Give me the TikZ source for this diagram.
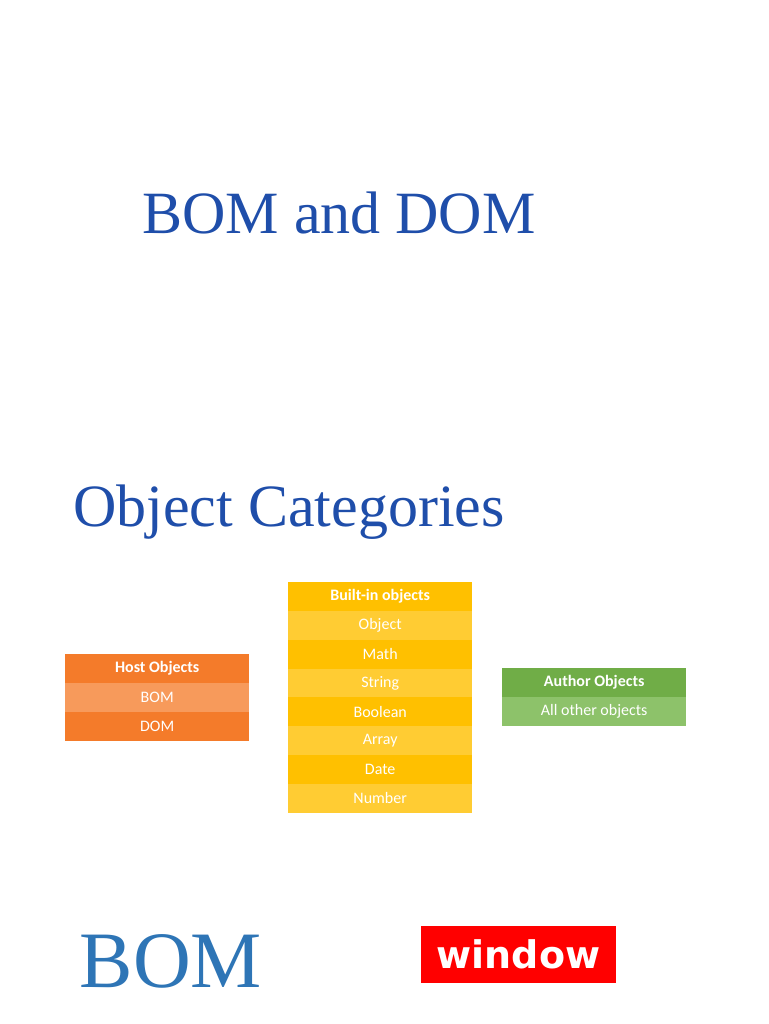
\documentclass[tikz,border=0pt]{standalone}
\usepackage{fontspec}
\setmainfont{Liberation Serif}
\newfontfamily\calfnt{Carlito}
\newfontfamily\dvs{DejaVu Sans}
\definecolor{ttl}{HTML}{1F4EAA}
\definecolor{bom}{HTML}{2E75B6}
\definecolor{ora}{HTML}{F47B2A}
\definecolor{oral}{HTML}{F79A5B}
\definecolor{yel}{HTML}{FFC000}
\definecolor{yell}{HTML}{FFCC33}
\definecolor{grn}{HTML}{70AD47}
\definecolor{grnl}{HTML}{8DC26A}
\tikzset{x=1pt,y=-1pt,
cell/.style={minimum width=184pt,minimum height=28.8pt,inner sep=0pt,text=white,font=\calfnt\fontsize{16}{16}\selectfont,anchor=north west},
hd/.style={cell,font=\calfnt\bfseries\fontsize{16}{16}\selectfont}}
\begin{document}
\begin{tikzpicture}
\useasboundingbox[fill=white] (0,0) rectangle (768,1024);
\node[text=ttl,font=\fontsize{60}{60}\selectfont] (t1) at (339,213) {BOM and DOM};
\node[text=ttl,font=\fontsize{60}{60}\selectfont] (t2) at (289,512) {Object Categories};
% host
\node[hd,fill=ora] (h0) at (65,654) {Host Objects};
\node[cell,fill=oral] (h1) at (65,682.8) {BOM};
\node[cell,fill=ora] (h2) at (65,711.6) {DOM};
% built-in
\node[hd,fill=yel] (b0) at (288,582) {Built-in objects};
\foreach \t [count=\i] in {Object,Math,String,Boolean,Array,Date,Number}{
  \pgfmathtruncatemacro\odd{mod(\i,2)}
  \ifnum\odd=1 \def\c{yell}\else\def\c{yel}\fi
  \node[cell,fill=\c] (b\i) at (288,582+28.8*\i) {\t};
}
% author
\node[hd,fill=grn] (a0) at (502,668) {Author Objects};
\node[cell,fill=grnl] (a1) at (502,696.8) {All other objects};
% bottom
\node[text=bom,font=\fontsize{80}{80}\selectfont] (bm) at (171,961) {BOM};
\node[fill=red,text=white,minimum width=195pt,minimum height=57pt,inner sep=0pt,font=\dvs\bfseries\fontsize{38}{38}\selectfont] (w) at (518.5,954.5) {window};
\end{tikzpicture}
\end{document}
